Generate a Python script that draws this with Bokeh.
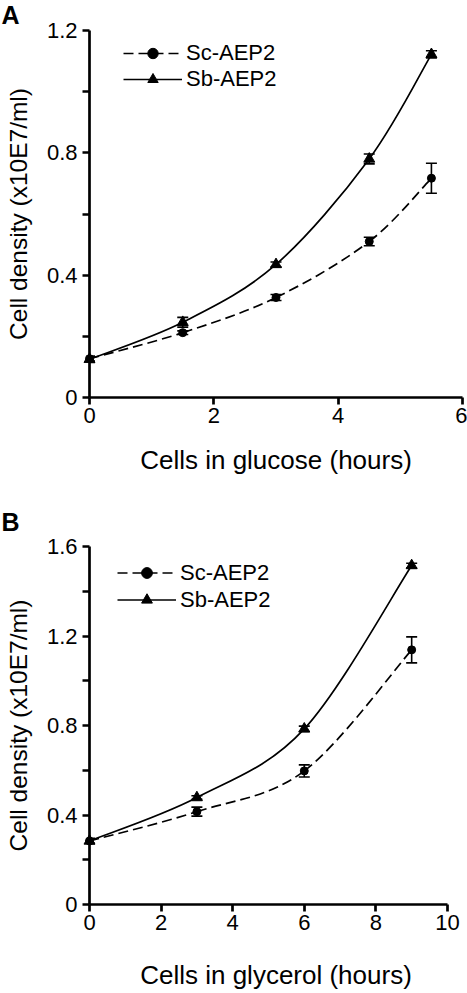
from bokeh.plotting import figure
from bokeh.models import (ColumnDataSource, Whisker, TeeHead, FixedTicker,
                          Legend, LegendItem)
from bokeh.layouts import column
from bokeh.embed import file_html
from bokeh.resources import INLINE

# ---------------- data ----------------
series_names = ["Sc-AEP2", "Sb-AEP2"]

glucose_hours = [0, 1.5, 3, 4.5, 5.5]
glucose_sc = [0.127, 0.212, 0.327, 0.510, 0.717]
glucose_sc_err = [0.008, 0.006, 0.010, 0.014, 0.049]
glucose_sb = [0.125, 0.246, 0.435, 0.780, 1.122]
glucose_sb_err = [0.010, 0.016, 0.008, 0.016, 0.012]

glycerol_hours = [0, 3, 6, 9]
glycerol_sc = [0.284, 0.415, 0.597, 1.138]
glycerol_sc_err = [0.012, 0.020, 0.027, 0.058]
glycerol_sb = [0.284, 0.478, 0.785, 1.515]
glycerol_sb_err = [0.010, 0.008, 0.012, 0.010]

glucose_x_ticks = [0, 2, 4, 6]
glucose_y_ticks = [0, 0.4, 0.8, 1.2]
glucose_y_labels = ["0", "0.4", "0.8", "1.2"]
glucose_y_minor = [0.2, 0.6, 1.0]

glycerol_x_ticks = [0, 2, 4, 6, 8, 10]
glycerol_y_ticks = [0, 0.4, 0.8, 1.2, 1.6]
glycerol_y_labels = ["0", "0.4", "0.8", "1.2", "1.6"]
glycerol_y_minor = [0.2, 0.6, 1.0, 1.4]

y_title = "Cell density (x10E7/ml)"
glucose_x_title = "Cells in glucose (hours)"
glycerol_x_title = "Cells in glycerol (hours)"
panel_letters = ["A", "B"]

FONT = "Liberation Sans"


def bezier_source(xs, ys):
    """Smooth (Catmull-Rom) curve through the data points as cubic Bezier segments."""
    n = len(xs)
    d = dict(x0=[], y0=[], x1=[], y1=[], cx0=[], cy0=[], cx1=[], cy1=[])
    for i in range(n - 1):
        p0 = (xs[i - 1], ys[i - 1]) if i > 0 else (xs[i], ys[i])
        p1 = (xs[i], ys[i])
        p2 = (xs[i + 1], ys[i + 1])
        p3 = (xs[i + 2], ys[i + 2]) if i + 2 < n else (xs[i + 1], ys[i + 1])
        d["x0"].append(p1[0]); d["y0"].append(p1[1])
        d["x1"].append(p2[0]); d["y1"].append(p2[1])
        d["cx0"].append(p1[0] + (p2[0] - p0[0]) / 6)
        d["cy0"].append(p1[1] + (p2[1] - p0[1]) / 6)
        d["cx1"].append(p2[0] - (p3[0] - p1[0]) / 6)
        d["cy1"].append(p2[1] - (p3[1] - p1[1]) / 6)
    return ColumnDataSource(d)


def make_panel(hours, sc, sc_err, sb, sb_err, x_ticks, y_ticks, y_labels, y_minor,
               x_title, letter, width, height, xr, yr, mb, legend_loc,
               glyph_h, standoff_x, title_valign, title_standoff):
    p = figure(width=width, height=height, x_range=xr, y_range=yr,
               output_backend="svg", toolbar_location=None,
               min_border_left=mb[0], min_border_right=mb[1],
               min_border_top=mb[2], min_border_bottom=mb[3])
    p.outline_line_color = None
    p.grid.visible = False
    p.background_fill_color = "white"
    p.border_fill_color = "white"

    # panel letter as the figure title
    p.title.text = letter
    p.title.align = "left"
    p.title.offset = -88
    p.title.text_font = FONT
    p.title.text_font_size = "25px"
    p.title.text_font_style = "bold"
    p.title.text_color = "black"
    p.title.vertical_align = title_valign
    p.title.standoff = title_standoff

    for ax in (p.xaxis[0], p.yaxis[0]):
        ax.axis_line_width = 2.7
        ax.axis_line_color = "black"
        ax.major_tick_line_width = 2.7
        ax.major_tick_line_color = "black"
        ax.minor_tick_line_width = 2.7
        ax.minor_tick_line_color = "black"
        ax.major_tick_in = 0
        ax.major_tick_out = 7
        ax.minor_tick_in = 0
        ax.minor_tick_out = 7
        ax.major_label_text_font = FONT
        ax.major_label_text_font_size = "22px"
        ax.major_label_text_color = "black"
        ax.axis_label_text_font = FONT
        ax.axis_label_text_font_style = "normal"
        ax.axis_label_text_color = "black"

    xa = p.xaxis[0]
    xa.ticker = FixedTicker(ticks=x_ticks, minor_ticks=[])
    xa.bounds = (x_ticks[0], x_ticks[-1])
    xa.axis_label = x_title
    xa.axis_label_text_font_size = "26px"
    xa.major_label_standoff = 3
    xa.axis_label_standoff = standoff_x

    ya = p.yaxis[0]
    ya.ticker = FixedTicker(ticks=y_ticks, minor_ticks=y_minor)
    ya.bounds = (y_ticks[0], y_ticks[-1])
    ya.major_label_overrides = {t: l for t, l in zip(y_ticks, y_labels)}
    ya.axis_label = y_title
    ya.axis_label_text_font_size = "24.5px"
    ya.major_label_standoff = 5
    ya.axis_label_standoff = 12

    # error bars
    for vals, errs in ((sc, sc_err), (sb, sb_err)):
        src = ColumnDataSource(dict(
            x=hours,
            upper=[v + e for v, e in zip(vals, errs)],
            lower=[v - e for v, e in zip(vals, errs)]))
        w = Whisker(base="x", upper="upper", lower="lower", source=src,
                    line_width=1.6, line_color="black", level="overlay",
                    upper_head=TeeHead(size=11, line_width=1.6, line_color="black"),
                    lower_head=TeeHead(size=11, line_width=1.6, line_color="black"))
        p.add_layout(w)

    # curves
    sc_curve = p.bezier(x0="x0", y0="y0", x1="x1", y1="y1", cx0="cx0", cy0="cy0",
                        cx1="cx1", cy1="cy1", source=bezier_source(hours, sc),
                        line_color="black", line_width=1.7, line_dash="10 5")
    sb_curve = p.bezier(x0="x0", y0="y0", x1="x1", y1="y1", cx0="cx0", cy0="cy0",
                        cx1="cx1", cy1="cy1", source=bezier_source(hours, sb),
                        line_color="black", line_width=1.7)
    sb_pts = p.scatter(hours, sb, marker="triangle", size=11,
                       fill_color="black", line_color="black", level="overlay")
    sc_pts = p.scatter(hours, sc, marker="circle", size=8,
                       fill_color="black", line_color="black", level="overlay")

    legend = Legend(items=[
        LegendItem(label=series_names[0], renderers=[sc_curve, sc_pts]),
        LegendItem(label=series_names[1], renderers=[sb_curve, sb_pts]),
    ], location=legend_loc)
    legend.border_line_color = None
    legend.background_fill_alpha = 0
    legend.padding = 0
    legend.margin = 0
    legend.spacing = 0
    legend.glyph_width = 59
    legend.glyph_height = glyph_h
    legend.label_height = glyph_h
    legend.label_standoff = 4
    legend.label_text_font = FONT
    legend.label_text_font_size = "22px"
    legend.label_text_color = "black"
    legend.label_text_baseline = "middle"
    p.add_layout(legend)
    return p


# panel A: frame x 89..462, y 30..397 ; panel B: frame x 89..462, y 546..904 (page px)
p1 = make_panel(glucose_hours, glucose_sc, glucose_sc_err, glucose_sb, glucose_sb_err,
                glucose_x_ticks, glucose_y_ticks, glucose_y_labels, glucose_y_minor,
                glucose_x_title, panel_letters[0], 467, 492, (0, 6), (0, 1.2),
                (89, 5, 30, 95), (34, 305), 26, 19, "top", 0)

p2 = make_panel(glycerol_hours, glycerol_sc, glycerol_sc_err, glycerol_sb, glycerol_sb_err,
                glycerol_x_ticks, glycerol_y_ticks, glycerol_y_labels, glycerol_y_minor,
                glycerol_x_title, panel_letters[1], 467, 501, (0, 10.42), (0, 1.6),
                (89, 5, 54, 89), (28, 291), 27, 27, "bottom", 21)

layout = column(p1, p2, spacing=0)

with open("out.html", "w") as f:
    f.write(file_html(layout, INLINE))
